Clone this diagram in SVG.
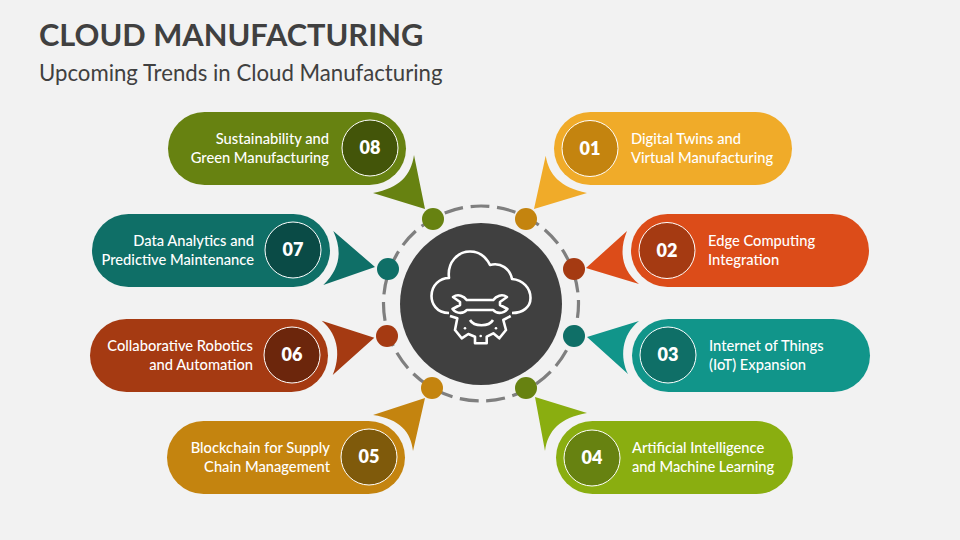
<svg xmlns="http://www.w3.org/2000/svg" width="960" height="540" viewBox="0 0 960 540">
<style>
.lbl{font:500 14.7px Lato,"Open Sans",sans-serif;fill:#fff}
.num{font:800 18px Lato,"Open Sans",sans-serif;fill:#fff;text-anchor:middle}
.badge{stroke:#fff;stroke-width:1}
.end{text-anchor:end}
.ic{fill:none;stroke:#fff;stroke-width:2.6;stroke-linejoin:round;stroke-linecap:butt}
</style>
<rect width="960" height="540" fill="#f2f2f2"/>
<text x="39" y="46" font-family="Lato" font-weight="700" font-size="30.800" fill="#404040">CLOUD MANUFACTURING</text>
<text x="39" y="80.500" font-family="Lato" font-size="22.200" fill="#404040">Upcoming Trends in Cloud Manufacturing</text>
<g id="connectors">
<circle cx="481" cy="303.500" r="97.500" fill="none" stroke="#7f7f7f" stroke-width="3.200" stroke-dasharray="19 7.630" stroke-dashoffset="4.500"/>
<path id="c1" d="M534 209L545.700 155.700C549 175 560 187 587 193Z" fill="#f0ab29"/>
<path id="c2" d="M586 268L627 231C619 250 621 270 639 284Z" fill="#dc4c19"/>
<path id="c3" d="M587 337L639 321C621 335 620 358 628 374Z" fill="#11958a"/>
<path id="c4" d="M535 397L587 413C560 418 548 430 545 451Z" fill="#8aae10"/>
<path id="c5" d="M425 398L373 415C400 419 411 432 413 451Z" fill="#c4840f"/>
<path id="c6" d="M374.300 337.700L321.700 320.700C340 336 340 358 332.700 375Z" fill="#a53a12"/>
<path id="c7" d="M375 267L333.300 231C342 250 341 268 323.300 285Z" fill="#0f6f67"/>
<path id="c8" d="M425 209L414 155C411 175 400 188 373 193Z" fill="#678211"/>
</g>
<g id="hub">
<circle cx="481" cy="304" r="81" fill="#404040"/>
<path class="ic" d="M449 313C436 313 431.500 303 431.500 296C431.500 285 440 278 449 278C447 262 458 251.500 470 251.500C479 251.500 486 257 490 265C501 262 510 269 512 279C523 280 530.500 288 530.500 298C530.500 307 523 313 512 313"/>
<path class="ic" d="M466.700 300C464 296 458 293.500 453 297L460 302V305L452.500 309C457 314.500 464 313.500 466.700 310H493.300C496 313.500 503 314.500 507.500 309L500 305V302L507 297C502 293.500 496 296 493.300 300Z"/>
<path class="ic" d="M450 316L457.300 318.300L455 330L461.700 338.300L468.300 334L475 336.700V343.300H486.700V336.700L493.300 333.300L499.300 338.300L506 330L503.300 320L510.700 316"/>
<path class="ic" d="M470 320C474 327 489 327 493 320"/>
<circle cx="465" cy="328.300" r="1.300" fill="#fff"/><circle cx="496" cy="328.300" r="1.300" fill="#fff"/><circle cx="480.700" cy="336" r="1.300" fill="#fff"/>
</g>
<g id="dots">
<circle cx="526" cy="219" r="11" fill="#c4840f"/>
<circle cx="574" cy="269" r="11" fill="#a53a12"/>
<circle cx="574" cy="336" r="11" fill="#0f6f67"/>
<circle cx="526" cy="388" r="11" fill="#678211"/>
<circle cx="432" cy="388" r="11" fill="#c4840f"/>
<circle cx="387" cy="336" r="11" fill="#a53a12"/>
<circle cx="388" cy="269" r="11" fill="#0f6f67"/>
<circle cx="433" cy="219" r="11" fill="#678211"/>
</g>
<g id="n1"><rect x="554" y="112" width="238" height="73" rx="36.500" fill="#f0ab29"/><circle class="badge" cx="590" cy="148.500" r="28" fill="#c4840f"/><text class="num" x="590" y="155">01</text><text class="lbl" x="631" y="144">Digital Twins and</text><text class="lbl" x="631" y="163">Virtual Manufacturing</text></g>
<g id="n2"><rect x="631" y="214" width="238" height="73" rx="36.500" fill="#dc4c19"/><circle class="badge" cx="667" cy="250.500" r="28" fill="#a53a12"/><text class="num" x="667" y="257">02</text><text class="lbl" x="708" y="246">Edge Computing</text><text class="lbl" x="708" y="265">Integration</text></g>
<g id="n3"><rect x="632" y="319" width="238" height="73" rx="36.500" fill="#11958a"/><circle class="badge" cx="668" cy="355" r="28" fill="#0f6f67"/><text class="num" x="668" y="361">03</text><text class="lbl" x="709" y="351">Internet of Things</text><text class="lbl" x="709" y="370">(IoT) Expansion</text></g>
<g id="n4"><rect x="556" y="421" width="237" height="73" rx="36.500" fill="#8aae10"/><circle class="badge" cx="592" cy="458" r="28" fill="#678211"/><text class="num" x="592" y="464">04</text><text class="lbl" x="632" y="453">Artificial Intelligence</text><text class="lbl" x="632" y="472">and Machine Learning</text></g>
<g id="n5"><rect x="167" y="421" width="238" height="73" rx="36.500" fill="#c4840f"/><circle class="badge" cx="369" cy="457" r="28" fill="#7f5a0b"/><text class="num" x="369" y="463">05</text><text class="lbl end" x="330" y="453">Blockchain for Supply</text><text class="lbl end" x="330" y="472">Chain Management</text></g>
<g id="n6"><rect x="90" y="319" width="238" height="73" rx="36.500" fill="#a53a12"/><circle class="badge" cx="292" cy="355" r="28" fill="#6c260c"/><text class="num" x="292" y="361">06</text><text class="lbl end" x="253" y="351">Collaborative Robotics</text><text class="lbl end" x="253" y="370">and Automation</text></g>
<g id="n7"><rect x="92" y="214" width="238" height="73" rx="36.500" fill="#0f6f67"/><circle class="badge" cx="293" cy="250" r="28" fill="#0a4b46"/><text class="num" x="293" y="256">07</text><text class="lbl end" x="254" y="246">Data Analytics and</text><text class="lbl end" x="254" y="265">Predictive Maintenance</text></g>
<g id="n8"><rect x="168" y="112" width="238" height="73" rx="36.500" fill="#678211"/><circle class="badge" cx="370" cy="148" r="28" fill="#435509"/><text class="num" x="370" y="154">08</text><text class="lbl end" x="329" y="144">Sustainability and</text><text class="lbl end" x="329" y="163">Green Manufacturing</text></g>
</svg>
